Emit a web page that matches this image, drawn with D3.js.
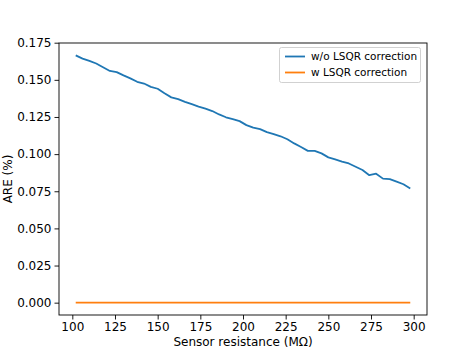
<!DOCTYPE html>
<html><head><meta charset="utf-8">
<script src="https://cdn.jsdelivr.net/npm/d3@7/dist/d3.min.js"></script>
<style>
body{margin:0;background:#fff;}
svg{display:block;font-family:"DejaVu Sans",sans-serif;}
</style></head>
<body><svg id="chart" width="474" height="355"></svg>
<script>
const resistance = [102,106,110,114,118,122,126,130,134,138,142,146,150,154,158,162,166,170,174,178,182,186,190,194,198,202,206,210,214,218,222,226,230,234,238,242,246,250,254,258,262,266,270,274,278,282,286,290,294,298];
const areWithout = [0.1665,0.1643,0.1628,0.1610,0.1585,0.1560,0.1552,0.1530,0.1510,0.1487,0.1475,0.1453,0.1440,0.1410,0.1382,0.1370,0.1352,0.1336,0.1320,0.1306,0.1290,0.1267,0.1248,0.1236,0.1222,0.1195,0.1178,0.1168,0.1148,0.1135,0.1120,0.1100,0.1072,0.1048,0.1022,0.1022,0.1005,0.0978,0.0965,0.0950,0.0937,0.0915,0.0893,0.0858,0.0868,0.0835,0.0832,0.0815,0.0797,0.0768];
const areWith = resistance.map(() => 0);
const xTicks = [100,125,150,175,200,225,250,275,300];
const yTicks = [0,0.025,0.05,0.075,0.1,0.125,0.15,0.175];
const seriesNames = ["w/o LSQR correction","w LSQR correction"];
const seriesColors = ["#1f77b4","#ff7f0e"];

const svg = d3.select("#chart");
const L = 59, R = 427, T = 43, B = 315;
const x = d3.scaleLinear().domain([92.2, 307.8]).range([L, R]);
const y = d3.scaleLinear().domain([-0.0083, 0.1748]).range([B, T]);

const xa = svg.append("g").attr("transform", `translate(0,${B})`)
  .call(d3.axisBottom(x).tickValues(xTicks).tickSize(4.5).tickPadding(3).tickFormat(d3.format("d")));
xa.select(".domain").remove();
xa.selectAll("text").attr("font-size", "12px").attr("fill", "#000").attr("font-family", "DejaVu Sans");
xa.selectAll("line").attr("stroke", "#000").attr("stroke-width", 0.9);

const ya = svg.append("g").attr("transform", `translate(${L},0)`)
  .call(d3.axisLeft(y).tickValues(yTicks).tickSize(4.5).tickPadding(3).tickFormat(d3.format(".3f")));
ya.select(".domain").remove();
ya.selectAll("text").attr("font-size", "12px").attr("fill", "#000").attr("font-family", "DejaVu Sans");
ya.selectAll("line").attr("stroke", "#000").attr("stroke-width", 0.9);

const line = d3.line().x((d,i) => x(resistance[i])).y(d => y(d));
svg.append("path").datum(areWithout).attr("d", line).attr("fill", "none")
  .attr("stroke", seriesColors[0]).attr("stroke-width", 1.8).attr("stroke-linejoin", "round");
svg.append("path").datum(areWith).attr("d", line).attr("fill", "none")
  .attr("stroke", seriesColors[1]).attr("stroke-width", 1.8);

svg.append("rect").attr("x", L).attr("y", T).attr("width", R - L).attr("height", B - T)
  .attr("fill", "none").attr("stroke", "#000").attr("stroke-width", 0.9);

svg.append("text").attr("x", (L + R) / 2).attr("y", 346).attr("text-anchor", "middle")
  .attr("font-size", "12px").text("Sensor resistance (M\u03A9)");
svg.append("text").attr("transform", `translate(12,${(T + B) / 2}) rotate(-90)`).attr("text-anchor", "middle")
  .attr("font-size", "12px").text("ARE (%)");

const lg = svg.append("g");
lg.append("rect").attr("x", 279.5).attr("y", 47.5).attr("width", 141).attr("height", 35)
  .attr("rx", 2).attr("fill", "#fff").attr("stroke", "#ccc").attr("stroke-width", 0.9);
seriesNames.forEach((n, i) => {
  const yy = 56.5 + i * 16;
  lg.append("line").attr("x1", 285).attr("x2", 305).attr("y1", yy).attr("y2", yy)
    .attr("stroke", seriesColors[i]).attr("stroke-width", 1.8);
  lg.append("text").attr("x", 311).attr("y", yy + 3.8).attr("font-size", "10.5px").text(n);
});
</script></body></html>
